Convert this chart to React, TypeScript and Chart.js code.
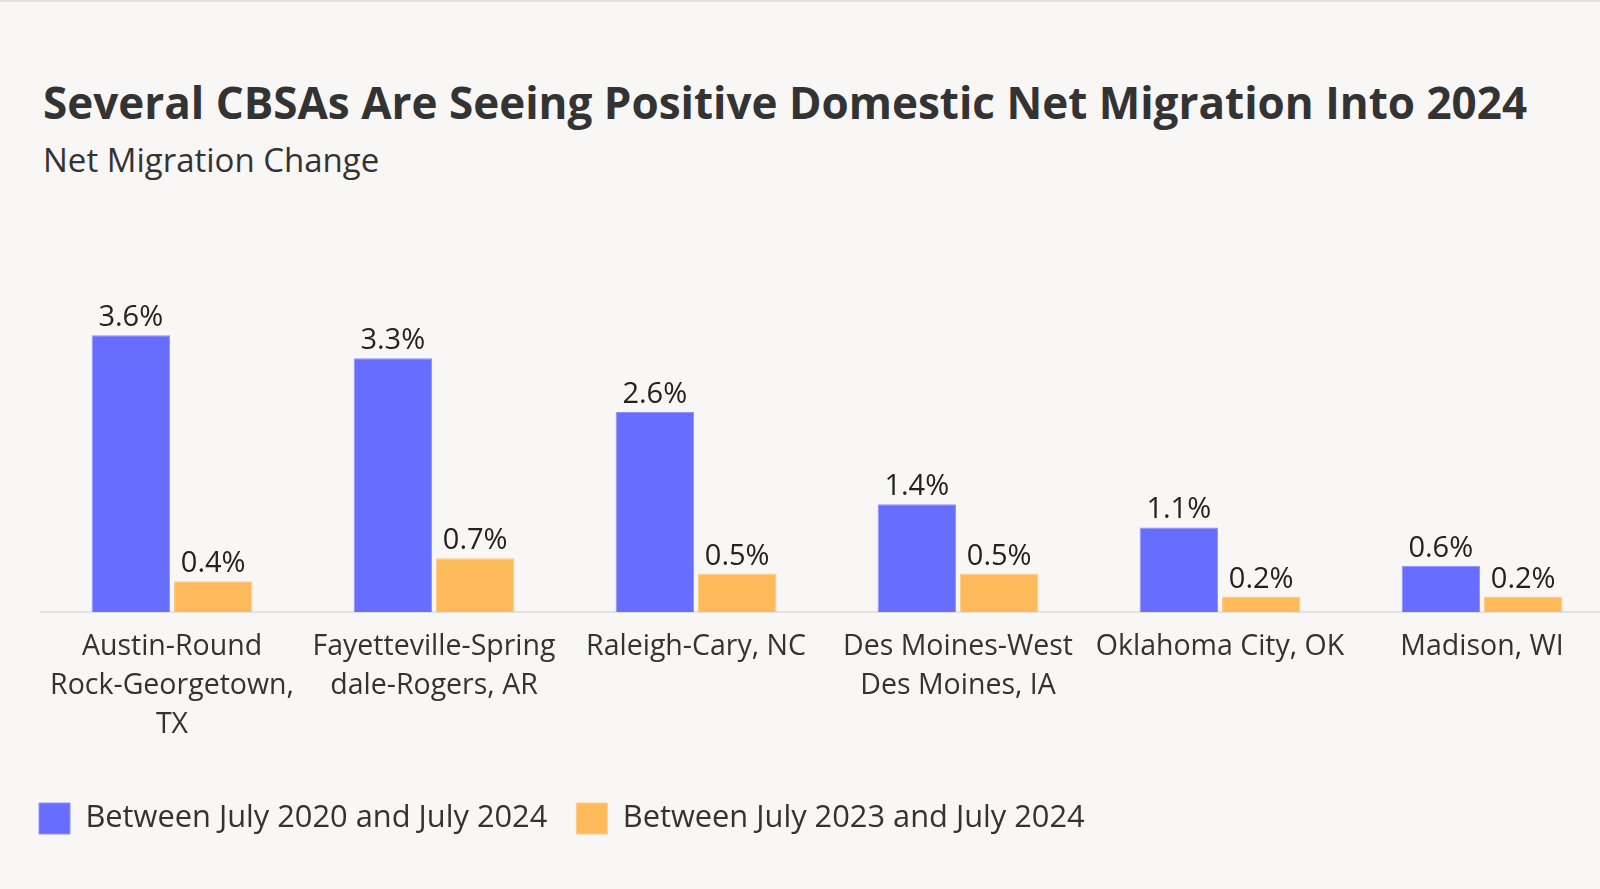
import React, { useEffect, useRef } from "react";
import { Chart, registerables } from "chart.js";

Chart.register(...registerables);

const TITLE = "Several CBSAs Are Seeing Positive Domestic Net Migration Into 2024";
const SUBTITLE = "Net Migration Change";

const categories: string[][] = [
  ["Austin-Round", "Rock-Georgetown,", "TX"],
  ["Fayetteville-Spring", "dale-Rogers, AR"],
  ["Raleigh-Cary, NC"],
  ["Des Moines-West", "Des Moines, IA"],
  ["Oklahoma City, OK"],
  ["Madison, WI"],
];

const seriesNames = ["Between July 2020 and July 2024", "Between July 2023 and July 2024"];
const values2020to2024 = [3.6, 3.3, 2.6, 1.4, 1.1, 0.6];
const values2023to2024 = [0.4, 0.7, 0.5, 0.5, 0.2, 0.2];

const FONT = '"Open Sans", "Noto Sans", sans-serif';

const valueLabels = {
  id: "valueLabels",
  afterDatasetsDraw(chart: any) {
    const ctx = chart.ctx;
    ctx.save();
    ctx.font = `29px ${FONT}`;
    ctx.fillStyle = "#222222";
    ctx.textAlign = "center";
    ctx.textBaseline = "alphabetic";
    chart.data.datasets.forEach((ds: any, di: number) => {
      const meta = chart.getDatasetMeta(di);
      meta.data.forEach((bar: any, i: number) => {
        const v = ds.data[i];
        ctx.fillText(v.toFixed(1) + "%", bar.x, bar.y - 9);
      });
    });
    ctx.restore();
  },
};

export default function App() {
  const ref = useRef<HTMLCanvasElement | null>(null);

  useEffect(() => {
    if (!ref.current) return;
    const chart = new Chart(ref.current, {
      type: "bar",
      data: {
        labels: categories as any,
        datasets: [
          {
            label: seriesNames[0],
            data: values2020to2024,
            backgroundColor: "#676DFF",
            borderColor: "#8E92FF",
            borderWidth: 1,
            categoryPercentage: 0.629,
            barPercentage: 0.951,
          },
          {
            label: seriesNames[1],
            data: values2023to2024,
            backgroundColor: "#FFBA5C",
            borderColor: "#FFCD88",
            borderWidth: 1,
            categoryPercentage: 0.629,
            barPercentage: 0.951,
          },
        ],
      },
      options: {
        responsive: false,
        animation: false,
        devicePixelRatio: 1,
        layout: { padding: { left: 10, right: 27, top: 266, bottom: 45 } },
        plugins: {
          title: { display: false },
          tooltip: { enabled: false },
          legend: {
            display: true,
            position: "bottom",
            align: "start",
            labels: {
              boxWidth: 31,
              boxHeight: 31,
              padding: 29,
              color: "#333333",
              font: { family: FONT, size: 30.8 },
            },
          },
        },
        scales: {
          x: {
            grid: { display: false, drawTicks: false },
            border: { display: true, color: "#E2E2E2", width: 2 },
            ticks: {
              color: "#333333",
              font: { family: FONT, size: 28.5, lineHeight: 1.37 },
              padding: 15.5,
              maxRotation: 0,
              minRotation: 0,
              autoSkip: false,
            },
            afterFit: (s: any) => {
              s.height = 162;
            },
          },
          y: {
            min: 0,
            max: 4.5,
            display: true,
            grid: { display: false, drawTicks: false },
            border: { display: false },
            ticks: { display: false },
            afterFit: (s: any) => {
              s.width = 31;
            },
          },
        },
      },
      plugins: [valueLabels],
    });
    return () => chart.destroy();
  }, []);

  return (
    <div
      style={{
        position: "fixed",
        left: 0,
        top: 0,
        width: 1600,
        height: 889,
        overflow: "hidden",
        background: "#F8F7F5",
        fontFamily: FONT,
      }}
    >
      <div style={{ position: "absolute", left: 0, top: 0, width: 1600, height: 2, background: "#E3E3E3" }} />
      <div
        style={{
          position: "absolute",
          left: 43,
          top: 80,
          fontSize: 44,
          lineHeight: 1,
          fontWeight: 700,
          color: "#333333",
          whiteSpace: "nowrap",
        }}
      >
        {TITLE}
      </div>
      <div
        style={{
          position: "absolute",
          left: 43,
          top: 143,
          fontSize: 33,
          lineHeight: 1,
          fontWeight: 400,
          color: "#333333",
          whiteSpace: "nowrap",
        }}
      >
        {SUBTITLE}
      </div>
      <canvas
        ref={ref}
        width={1640}
        height={889}
        style={{ position: "absolute", left: 0, top: 0, width: 1640, height: 889 }}
      />
    </div>
  );
}
